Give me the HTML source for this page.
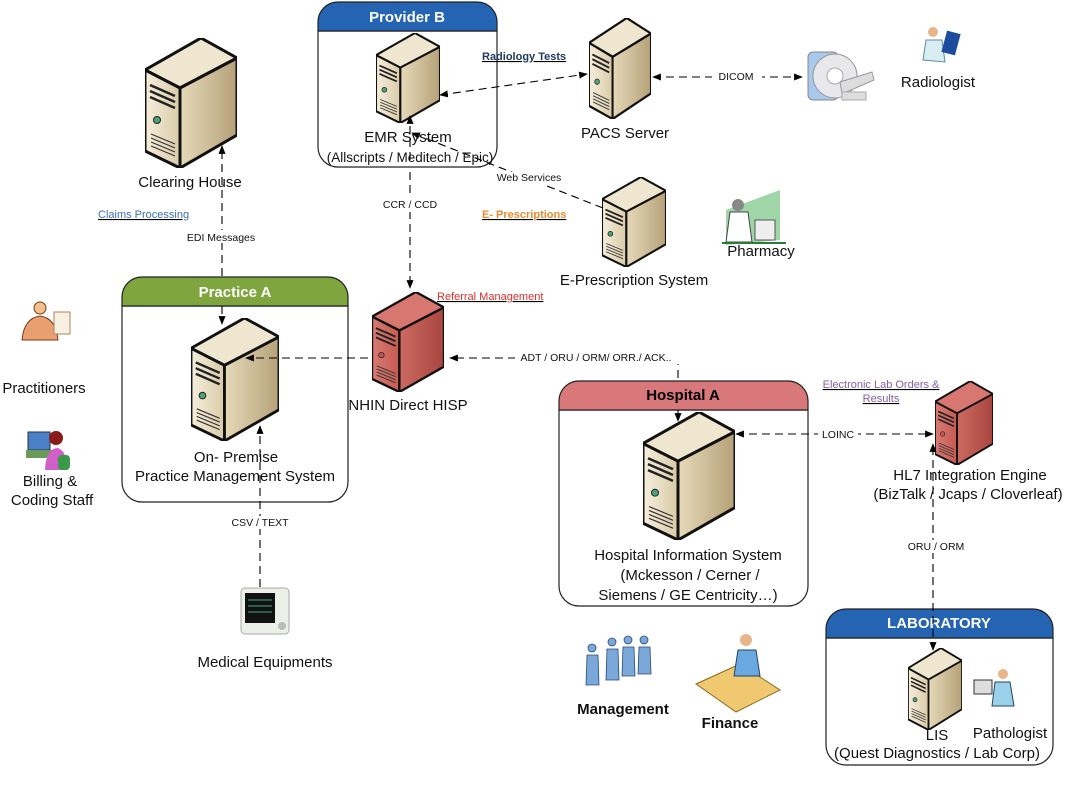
<!DOCTYPE html>
<html><head><meta charset="utf-8"><style>
html,body{margin:0;padding:0;background:#fff;}
svg{display:block;font-family:"Liberation Sans",Arial,sans-serif;}
</style></head><body>
<svg width="1070" height="789" viewBox="0 0 1070 789" xmlns="http://www.w3.org/2000/svg">
<defs>
<linearGradient id="gf" x1="0" x2="1"><stop offset="0" stop-color="#f6eedc"/><stop offset="1" stop-color="#d9cba8"/></linearGradient>
<linearGradient id="gs" x1="0" x2="1"><stop offset="0" stop-color="#e6d9b8"/><stop offset="1" stop-color="#b5a179"/></linearGradient>
<linearGradient id="rf" x1="0" x2="1"><stop offset="0" stop-color="#d97a72"/><stop offset="1" stop-color="#c55a52"/></linearGradient>
<linearGradient id="rs" x1="0" x2="1"><stop offset="0" stop-color="#cc6a62"/><stop offset="1" stop-color="#a8463f"/></linearGradient>
<symbol id="srv" viewBox="0 0 92 130" preserveAspectRatio="none">
<polygon points="0,32 56,0 92,20 35,50" fill="#efe6cf" stroke="#111" stroke-width="3" stroke-linejoin="round"/>
<polygon points="0,32 35,50 35,130 0,113" fill="url(#gf)" stroke="#111" stroke-width="3" stroke-linejoin="round"/>
<polygon points="35,50 92,20 92,97 35,130" fill="url(#gs)" stroke="#111" stroke-width="3" stroke-linejoin="round"/>
<path d="M5,47 L30,58 M5,53 L30,64 M5,59 L30,70" stroke="#222" stroke-width="2.5"/>
<circle cx="12" cy="82" r="3.5" fill="#4aa37a" stroke="#222" stroke-width="1"/>
<path d="M6,96 L30,106 M6,100 L30,110 M6,104 L30,114 M6,108 L30,118" stroke="#333" stroke-width="1.2"/>
</symbol>
<symbol id="srvr" viewBox="0 0 92 130" preserveAspectRatio="none">
<polygon points="0,32 56,0 92,20 35,50" fill="#d87770" stroke="#111" stroke-width="3" stroke-linejoin="round"/>
<polygon points="0,32 35,50 35,130 0,113" fill="url(#rf)" stroke="#111" stroke-width="3" stroke-linejoin="round"/>
<polygon points="35,50 92,20 92,97 35,130" fill="url(#rs)" stroke="#111" stroke-width="3" stroke-linejoin="round"/>
<path d="M5,47 L30,58 M5,53 L30,64 M5,59 L30,70" stroke="#222" stroke-width="2.5"/>
<circle cx="12" cy="82" r="3.5" fill="#c55a52" stroke="#222" stroke-width="1"/>
<path d="M6,96 L30,106 M6,100 L30,110 M6,104 L30,114 M6,108 L30,118" stroke="#333" stroke-width="1.2"/>
</symbol>
<marker id="ar" viewBox="0 0 10 10" refX="9" refY="5" markerWidth="8" markerHeight="8" orient="auto-start-reverse"><path d="M0,1 L10,5 L0,9 z" fill="#000"/></marker>
</defs>

<g stroke="#222" stroke-width="1.2">
<path d="M318,147 V31 H497 V147 a20,20 0 0 1 -20,20 H338 a20,20 0 0 1 -20,-20z" fill="#fff"/>
<path d="M318,31 V22 a20,20 0 0 1 20,-20 H477 a20,20 0 0 1 20,20 V31z" fill="#2563b3"/>
<path d="M122,306 H348 V482 a20,20 0 0 1 -20,20 H142 a20,20 0 0 1 -20,-20z" fill="#fff"/>
<path d="M122,306 V297 a20,20 0 0 1 20,-20 H328 a20,20 0 0 1 20,20 V306z" fill="#7ea53e"/>
<path d="M559,410 H808 V586 a20,20 0 0 1 -20,20 H579 a20,20 0 0 1 -20,-20z" fill="#fff"/>
<path d="M559,410 V401 a20,20 0 0 1 20,-20 H788 a20,20 0 0 1 20,20 V410z" fill="#d9787a"/>
<path d="M826,638 H1053 V745 a20,20 0 0 1 -20,20 H846 a20,20 0 0 1 -20,-20z" fill="#fff"/>
<path d="M826,638 V629 a20,20 0 0 1 20,-20 H1033 a20,20 0 0 1 20,20 V638z" fill="#2563b3"/>
</g>
<g font-weight="bold" font-size="15" text-anchor="middle">
<text x="407" y="22" fill="#fff">Provider B</text>
<text x="235" y="297" fill="#fff">Practice A</text>
<text x="683" y="400" fill="#000">Hospital A</text>
<text x="939" y="628" fill="#fff">LABORATORY</text>
</g>

<use href="#srv" x="145" y="38" width="92" height="130"/>
<use href="#srv" x="376" y="33" width="64" height="90"/>
<use href="#srv" x="589" y="18" width="62" height="101"/>
<use href="#srv" x="602" y="177" width="64" height="90"/>
<use href="#srv" x="191" y="318" width="88" height="123"/>
<use href="#srvr" x="372" y="292" width="72" height="100"/>
<use href="#srv" x="643" y="412" width="92" height="128"/>
<use href="#srvr" x="935" y="381" width="58" height="84"/>
<use href="#srv" x="908" y="648" width="54" height="82"/>

<g stroke="#000" stroke-width="1.1" fill="none" stroke-dasharray="8,5">
<line x1="222" y1="276" x2="222" y2="146" marker-end="url(#ar)"/>
<line x1="222" y1="306" x2="222" y2="324" marker-end="url(#ar)"/>
<line x1="410" y1="172" x2="410" y2="288" marker-end="url(#ar)"/>
<line x1="410" y1="160" x2="410" y2="116" marker-end="url(#ar)"/>
<line x1="440" y1="95" x2="587" y2="74" marker-start="url(#ar)" marker-end="url(#ar)"/>
<line x1="603" y1="208" x2="412" y2="133" marker-end="url(#ar)"/>
<line x1="653" y1="77" x2="802" y2="77" marker-start="url(#ar)" marker-end="url(#ar)"/>
<line x1="368" y1="358" x2="246" y2="358" marker-end="url(#ar)"/>
<polyline points="678,378 678,358 450,358" marker-end="url(#ar)"/>
<line x1="678" y1="410" x2="678" y2="421" marker-end="url(#ar)"/>
<line x1="736" y1="434" x2="933" y2="434" marker-start="url(#ar)" marker-end="url(#ar)"/>
<line x1="933" y1="650" x2="933" y2="444" marker-start="url(#ar)" marker-end="url(#ar)"/>
<line x1="260" y1="587" x2="260" y2="426" marker-end="url(#ar)"/>
</g>

<g font-size="10.5" fill="#111" text-anchor="middle">
<rect x="187" y="230" width="70" height="13" fill="#fff"/><text x="221" y="241">EDI Messages</text>
<rect x="380" y="198" width="60" height="14" fill="#fff"/><text x="410" y="208">CCR / CCD</text>
<rect x="492" y="172" width="74" height="13" fill="#fff"/><text x="529" y="181">Web Services</text>
<rect x="712" y="70" width="50" height="14" fill="#fff"/><text x="736" y="80">DICOM</text>
<rect x="515" y="351" width="165" height="13" fill="#fff"/><text x="596" y="361">ADT / ORU / ORM/ ORR./ ACK..</text>
<rect x="818" y="428" width="40" height="13" fill="#fff"/><text x="838" y="438">LOINC</text>
<rect x="905" y="540" width="60" height="13" fill="#fff"/><text x="936" y="550">ORU / ORM</text>
<rect x="225" y="516" width="70" height="13" fill="#fff"/><text x="260" y="526">CSV / TEXT</text>
</g>
<g font-size="11" text-decoration="underline">
<text x="98" y="218" fill="#3b6fb6">Claims Processing</text>
<text x="482" y="60" fill="#1f3864" font-weight="bold">Radiology Tests</text>
<text x="482" y="218" fill="#e98a2c" font-weight="bold">E- Prescriptions</text>
<text x="437" y="300" fill="#e0302a">Referral Management</text>
<text x="881" y="388" fill="#8060a8" text-anchor="middle">Electronic Lab Orders &amp;</text>
<text x="881" y="402" fill="#8060a8" text-anchor="middle">Results</text>
</g>

<g font-size="15" fill="#111" text-anchor="middle">
<text x="190" y="187">Clearing House</text>
<text x="408" y="142">EMR System</text>
<text x="410" y="162" font-size="13.5">(Allscripts / Meditech / Epic)</text>
<text x="625" y="138">PACS Server</text>
<text x="634" y="285">E-Prescription System</text>
<text x="938" y="87">Radiologist</text>
<text x="761" y="256">Pharmacy</text>
<text x="44" y="393">Practitioners</text>
<text x="50" y="486">Billing &amp;</text>
<text x="52" y="505">Coding Staff</text>
<text x="236" y="462">On- Premise</text>
<text x="235" y="481">Practice Management System</text>
<text x="408" y="410">NHIN Direct HISP</text>
<text x="688" y="560">Hospital Information System</text>
<text x="690" y="580">(Mckesson / Cerner /</text>
<text x="688" y="600">Siemens / GE Centricity…)</text>
<text x="970" y="480">HL7 Integration Engine</text>
<text x="968" y="499">(BizTalk / Jcaps / Cloverleaf)</text>
<text x="265" y="667">Medical Equipments</text>
<text x="937" y="740">LIS</text>
<text x="1010" y="738">Pathologist</text>
<text x="937" y="758">(Quest Diagnostics / Lab Corp)</text>
<text x="623" y="714" font-weight="bold">Management</text>
<text x="730" y="728" font-weight="bold">Finance</text>
</g>

<g>
<rect x="808" y="52" width="30" height="48" rx="5" fill="#a8c8ec" stroke="#888"/>
<circle cx="835" cy="76" r="22" fill="#e8e8ea" stroke="#999"/>
<circle cx="835" cy="76" r="8" fill="#fff" stroke="#aaa"/>
<path d="M840,82 L872,72 L874,80 L842,94 z" fill="#ddd" stroke="#999"/>
<rect x="842" y="92" width="24" height="8" fill="#ddd" stroke="#aaa"/>
</g>
<g>
<circle cx="933" cy="32" r="5" fill="#e8b48a"/>
<path d="M923,60 L926,40 L942,40 L945,62 z" fill="#d8ecf2" stroke="#5a8fa8"/>
<rect x="944" y="32" width="14" height="22" fill="#1d4c9e" transform="rotate(15 951 43)"/>
</g>
<g>
<polygon points="726,210 780,190 780,240 726,245" fill="#9ed6a8"/>
<circle cx="738" cy="205" r="6" fill="#888"/>
<path d="M726,242 L730,212 L748,212 L752,242 z" fill="#fff" stroke="#444"/>
<rect x="755" y="220" width="20" height="20" fill="#eee" stroke="#555"/>
<line x1="722" y1="243" x2="786" y2="243" stroke="#2a7a3a" stroke-width="2"/>
</g>
<g>
<circle cx="40" cy="308" r="6" fill="#f0c090" stroke="#7a3a1a"/>
<path d="M22,340 Q24,318 40,316 Q56,318 58,340 z" fill="#e8a070" stroke="#7a3a1a"/>
<rect x="54" y="312" width="16" height="22" fill="#f8f0e0" stroke="#b08060"/>
</g>
<g>
<rect x="28" y="432" width="22" height="18" fill="#4a80c8" stroke="#234"/>
<rect x="26" y="450" width="26" height="8" fill="#6a9a5a"/>
<circle cx="56" cy="438" r="7" fill="#8a1a1a"/>
<path d="M45,470 Q46,448 58,448 Q68,452 66,470 z" fill="#d060c8"/>
<rect x="58" y="455" width="12" height="15" rx="4" fill="#3a9a4a"/>
</g>
<g>
<rect x="241" y="588" width="48" height="46" rx="4" fill="#eceee8" stroke="#aaa"/>
<rect x="245" y="593" width="30" height="30" fill="#111"/>
<path d="M248,600 H272 M248,606 H272 M248,612 H272" stroke="#4a8" stroke-width="1"/>
<circle cx="282" cy="626" r="4" fill="#bbb"/>
</g>
<g fill="#7aa8d8" stroke="#2a4a7a" stroke-width="0.8">
<circle cx="592" cy="648" r="4"/><path d="M586,685 L587,655 L598,655 L599,685 z"/>
<circle cx="612" cy="642" r="4"/><path d="M606,680 L607,649 L618,649 L619,680 z"/>
<circle cx="628" cy="640" r="4"/><path d="M622,676 L623,647 L634,647 L635,676 z"/>
<circle cx="644" cy="640" r="4"/><path d="M638,674 L639,647 L650,647 L651,674 z"/>
</g>
<g>
<polygon points="696,684 740,664 780,690 736,712" fill="#f0c870" stroke="#8a6a20"/>
<circle cx="746" cy="640" r="6" fill="#e8b48a"/>
<path d="M734,676 L738,650 L756,650 L760,676 z" fill="#6aa8e0" stroke="#246"/>
</g>
<g>
<rect x="974" y="680" width="18" height="14" fill="#ddd" stroke="#333"/>
<circle cx="1003" cy="674" r="5" fill="#e8b48a"/>
<path d="M992,706 L995,682 L1010,682 L1014,706 z" fill="#9ad0e8" stroke="#246"/>
</g>
</svg>
</body></html>
